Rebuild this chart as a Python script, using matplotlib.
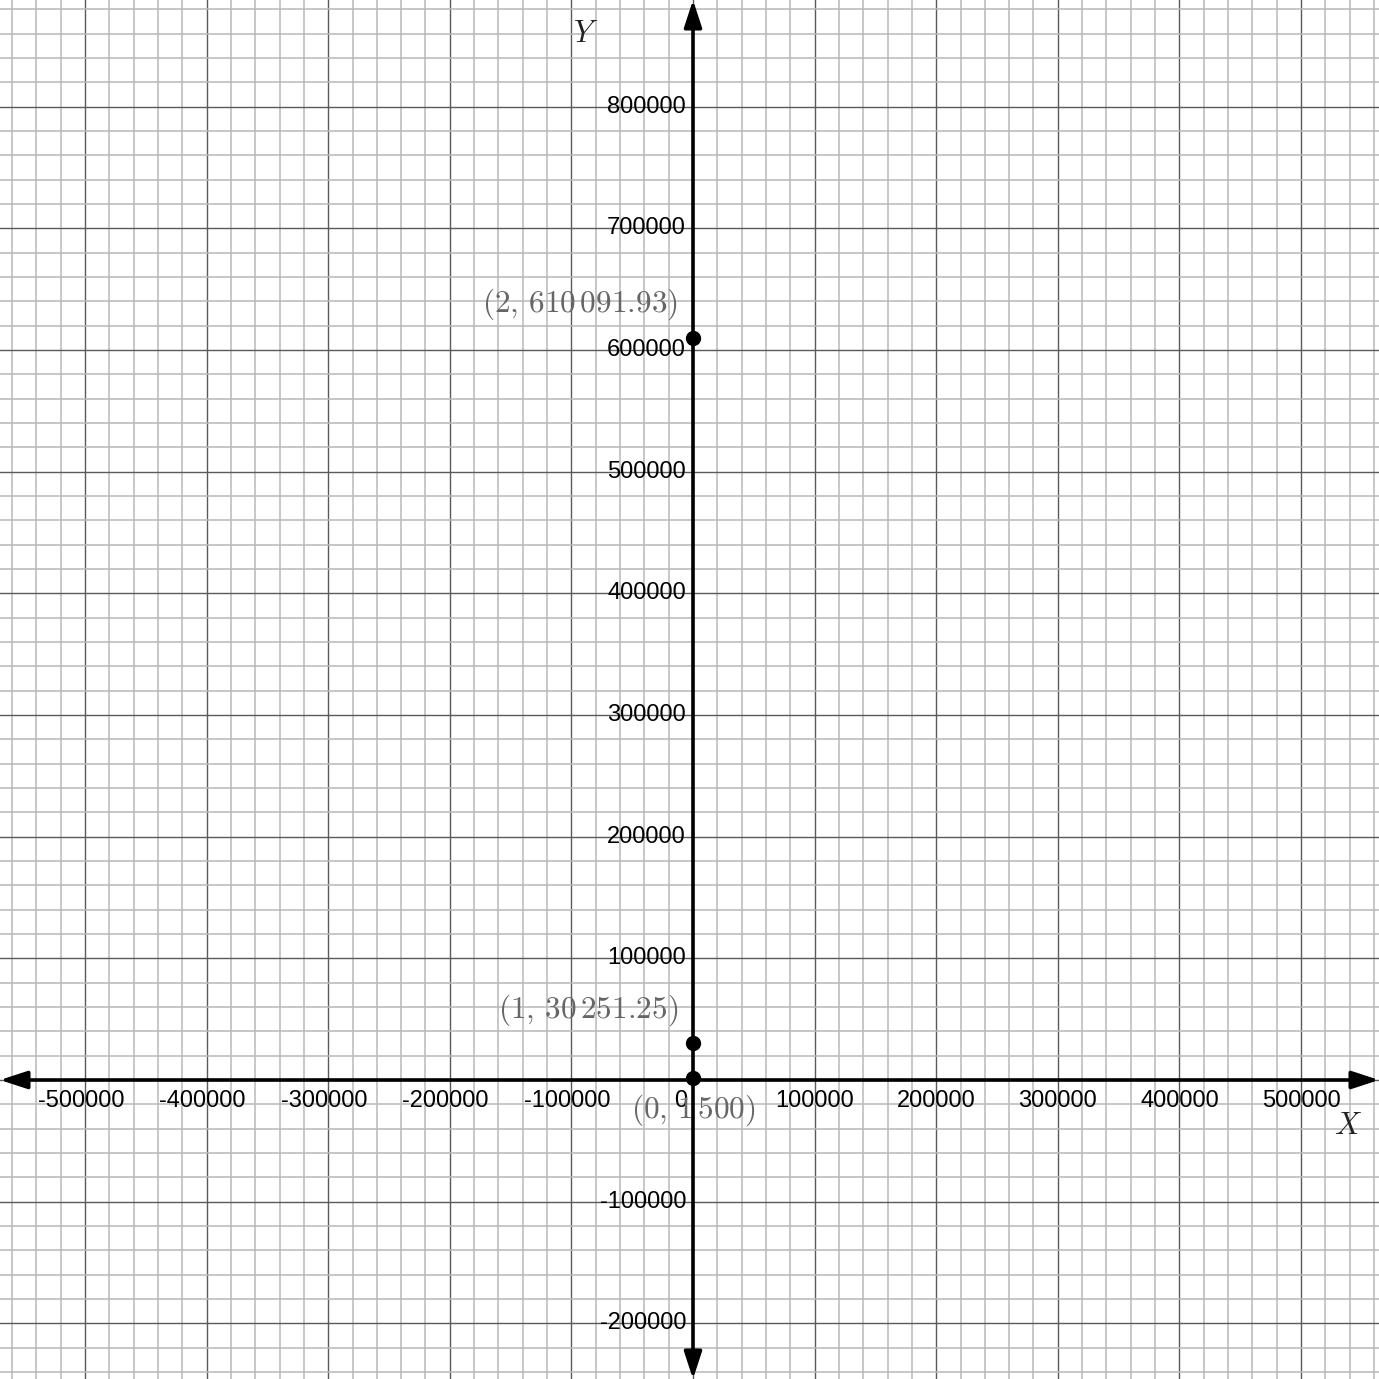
import matplotlib
matplotlib.use("Agg")
import matplotlib.pyplot as plt
import numpy as np

plt.rcParams['mathtext.fontset'] = 'cm'

# Data
point_x = [0, 1, 2]
point_y = [1500, 30251.25, 610091.93]
point_labels = [r"$(0,\, 1\,500)$", r"$(1,\, 30\,251.25)$", r"$(2,\, 610\,091.93)$"]
x_tick_vals = [-500000, -400000, -300000, -200000, -100000, 100000, 200000, 300000, 400000, 500000]
y_tick_vals = [-200000, -100000, 100000, 200000, 300000, 400000, 500000, 600000, 700000, 800000]

xmin, xmax = -569900, 564150
ymin, ymax = -245750, 887650

fig = plt.figure(figsize=(13.79, 13.79), dpi=100)
ax = fig.add_axes([0, 0, 1, 1])
for s in ax.spines.values():
    s.set_visible(False)

ax.set_xticks(np.arange(-500000, 500001, 100000))
ax.set_yticks(np.arange(-200000, 800001, 100000))
ax.set_xticks(np.arange(-560000, 560001, 20000), minor=True)
ax.set_yticks(np.arange(-240000, 880001, 20000), minor=True)
ax.set_xlim(xmin, xmax)
ax.set_ylim(ymin, ymax)
ax.tick_params(which='both', length=0, labelbottom=False, labelleft=False)
ax.grid(which='major', color='#5a5a5a', lw=1.0, zorder=0)
ax.grid(which='minor', color='#b8b8b8', lw=1.1, zorder=0)
ax.set_axisbelow(True)

arrow = dict(arrowstyle='<|-|>,head_length=0.55,head_width=0.18', lw=2.6,
             color='black', mutation_scale=30, shrinkA=0, shrinkB=0)
ax.annotate('', xy=(xmax, 0), xytext=(xmin, 0), arrowprops=arrow, zorder=3)
ax.annotate('', xy=(0, ymax), xytext=(0, ymin), arrowprops=arrow, zorder=3)

tick_font = dict(family='Liberation Sans', fontsize=17, color='black')
for v in x_tick_vals:
    dx = -3 if v < 0 else 0
    ax.annotate(f"{v}", xy=(v, 0), xytext=(dx, -7), textcoords='offset points',
                ha='center', va='top', **tick_font, zorder=4)
ax.annotate("0", xy=(0, 0), xytext=(-9, -7), textcoords='offset points',
            ha='center', va='top', **tick_font, zorder=4)
for v in y_tick_vals:
    ax.annotate(f"{v}", xy=(0, v), xytext=(-5, 0), textcoords='offset points',
                ha='right', va='center', **tick_font, zorder=4)

ax.plot(point_x, point_y, 'o', color='black', ms=10, zorder=5, clip_on=False)

lab_col = '#666666'
offsets = [((0, -23), 'center'), ((-11, 24), 'right'), ((-11, 24), 'right')]
for (px, py), lab, ((ox, oy), ha) in zip(zip(point_x, point_y), point_labels, offsets):
    ax.annotate(lab, xy=(px, py), xytext=(ox, oy), textcoords='offset points',
                ha=ha, va='center', fontsize=22.5, color=lab_col, zorder=6)

ax.annotate(r"$Y$", xy=(0, ymax), xytext=(-77, -24), textcoords='offset points',
            ha='center', va='center', fontsize=22, color='#222222')
ax.annotate(r"$X$", xy=(xmax, 0), xytext=(-22, -33), textcoords='offset points',
            ha='center', va='center', fontsize=22, color='#222222')

fig.savefig("out.png", dpi=100)
